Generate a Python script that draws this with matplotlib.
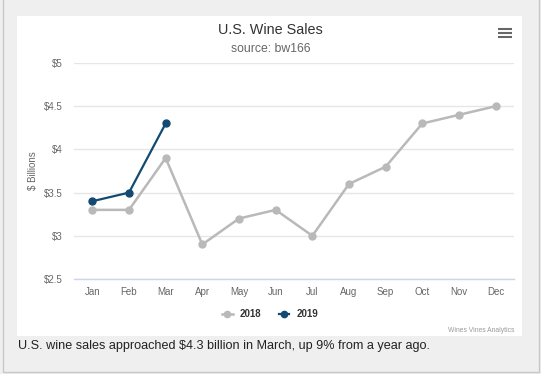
import matplotlib
matplotlib.use("Agg")
import matplotlib.pyplot as plt
from matplotlib.patches import Rectangle
from matplotlib.lines import Line2D

plt.rcParams['font.family'] = ['Liberation Sans', 'DejaVu Sans']

months = ["Jan", "Feb", "Mar", "Apr", "May", "Jun", "Jul", "Aug", "Sep", "Oct", "Nov", "Dec"]
sales_2018 = [3.3, 3.3, 3.9, 2.9, 3.2, 3.3, 3.0, 3.6, 3.8, 4.3, 4.4, 4.5]
sales_2019 = [3.4, 3.5, 4.3]
yticks = [2.5, 3, 3.5, 4, 4.5, 5]
ytick_labels = ["$2.5", "$3", "$3.5", "$4", "$4.5", "$5"]

W, H = 541, 374
fig = plt.figure(figsize=(W / 100, H / 100), dpi=100)
fig.patch.set_facecolor("#efefef")

def fx(px):
    return px / W

def fy(py):
    return 1 - py / H

# outer border
fig.add_artist(Rectangle((fx(2.5), fy(372)), fx(539) - fx(2.5), fy(-2) - fy(372),
                         transform=fig.transFigure, facecolor="none",
                         edgecolor="#c8c8c8", linewidth=1.0, zorder=0))
# white chart box
fig.add_artist(Rectangle((fx(17), fy(336)), fx(522) - fx(17), fy(16) - fy(336),
                         transform=fig.transFigure, facecolor="white",
                         edgecolor="none", zorder=0))

ax = fig.add_axes([fx(74), fy(279), fx(514) - fx(74), fy(63) - fy(279)])
ax.set_facecolor("white")
ax.patch.set_alpha(0)
x = list(range(len(months)))
c18 = "#b9b9b9"
c19 = "#134a72"
l18, = ax.plot(x, sales_2018, color=c18, linewidth=1.8, marker="o", markersize=5.0, zorder=3, label="2018")
l19, = ax.plot(x[:len(sales_2019)], sales_2019, color=c19, linewidth=1.6, marker="o", markersize=5.0, zorder=4, label="2019")

ax.set_xlim(-0.5, 11.5)
ax.set_ylim(2.5, 5)
ax.set_yticks(yticks)
ax.set_yticklabels(ytick_labels)
ax.set_xticks(x)
ax.set_xticklabels(months)
ax.grid(axis="y", color="#e6e6e6", linewidth=1)
ax.set_axisbelow(True)
for s in ["top", "right", "left"]:
    ax.spines[s].set_visible(False)
ax.spines["bottom"].set_color("#ccd6eb")
ax.spines["bottom"].set_linewidth(1)
ax.tick_params(axis="both", length=0, labelsize=7, labelcolor="#666666")
ax.tick_params(axis="y", pad=8.5)
ax.tick_params(axis="x", pad=5.5)

fig.text(fx(33), fy(171), "$ Billions", rotation=90, ha="center", va="center",
         fontsize=7.0, color="#666666")

fig.text(0.5, fy(30), "U.S. Wine Sales", ha="center", va="center", fontsize=10.4, color="#333333")
fig.text(0.5, fy(49), "source: bw166", ha="center", va="center", fontsize=8.8, color="#666666")

# menu icon
for yy in (28.5, 32.5, 36.5):
    fig.add_artist(Line2D([fx(498), fx(512)], [fy(yy), fy(yy)], transform=fig.transFigure,
                          color="#666666", linewidth=1.5, solid_capstyle="butt"))

leg = fig.legend(handles=[l18, l19], loc="center", bbox_to_anchor=(fx(270), fy(314)),
                 ncol=2, frameon=False, handlelength=1.1, handletextpad=0.7,
                 columnspacing=1.8, prop={"size": 7, "weight": "bold"})
for t in leg.get_texts():
    t.set_color("#333333")
for h in leg.legend_handles:
    h.set_markersize(4.5)

fig.text(fx(514), fy(330), "Wines Vines Analytics", ha="right", va="center", fontsize=4.9, color="#999999")

fig.text(fx(18), fy(345.5), "U.S. wine sales approached $4.3 billion in March, up 9% from a year ago.",
         ha="left", va="center", fontsize=9.1, color="#222222")

fig.savefig("out.png", dpi=100, facecolor=fig.get_facecolor())
